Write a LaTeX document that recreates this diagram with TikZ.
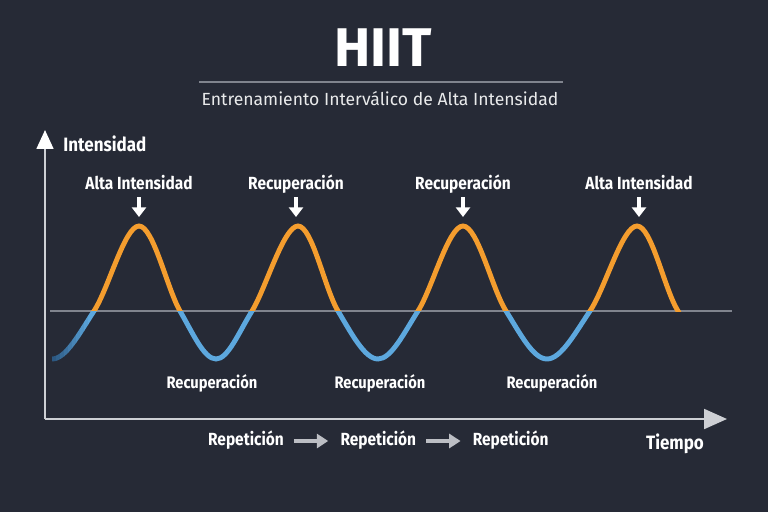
\documentclass[tikz,border=0pt]{standalone}
\usepackage{fontspec}
\setmainfont{Fira Sans}
\newfontfamily\narrowfont{Fira Sans}[FakeStretch=0.88]
\usepackage{xcolor}
\usepackage{tikz}
\usetikzlibrary{arrows.meta,positioning}

\definecolor{bgc}{RGB}{38,42,54}
\definecolor{hiorange}{RGB}{244,157,46}
\definecolor{lowblue}{RGB}{93,168,222}
\definecolor{deepblue}{RGB}{44,88,130}
\definecolor{axisgray}{RGB}{205,207,212}
\definecolor{linegray}{RGB}{128,132,142}

\begin{document}
\begin{tikzpicture}[
  x=0.02cm, y=-0.02cm, >=Triangle,
  lab/.style={font=\narrowfont\bfseries\fontsize{10}{12}\selectfont, text=white, inner sep=0pt},
  phase/.style={lab, text height=7.3pt, text depth=2.3pt},
  downarr/.style={white, line width=2.2pt, -{Triangle[length=5.5pt,width=8pt]}},
  reparr/.style={axisgray!90!bgc, line width=2.4pt, -{Triangle[length=6.5pt,width=8pt]}},
  wave/.style={line width=2.8pt},
]
\fill[bgc] (0,0) rectangle (768,512);
% ---- title
\node[font=\bfseries\fontsize{31}{36}\selectfont, text=white] (title) at (383,48) {HIIT};
\draw[linegray, line width=0.6pt] (199,82) -- (563,82);
\node[font=\fontsize{10}{12}\selectfont, text=white!90!bgc] (subt) at (380,99)
  {Entrenamiento Interválico de Alta Intensidad};
% ---- axes
\coordinate (origin) at (45,419);
\coordinate (ytop) at (45,130);
\coordinate (xend) at (727,419);
\draw[axisgray, line width=1.2pt, -{Triangle[length=10.8pt,width=9.6pt,color=white]}] (origin) -- (ytop);
\draw[axisgray, line width=1.2pt, -{Triangle[length=13pt,width=11.3pt]}] (origin) -- (xend);
\node[lab, font=\narrowfont\bfseries\fontsize{11}{13}\selectfont, anchor=west] (ylab) at (63,144) {Intensidad};
\node[lab, font=\narrowfont\bfseries\fontsize{11}{13}\selectfont] (xlab) at (675,444) {Tiempo};
% ---- threshold and wave
\draw[linegray, line width=0.8pt] (50,311) -- (732,311);
\path[save path=\wavecurve] plot[smooth, tension=0.6] coordinates {(10,311) (52,359) (94,311)
  (139,226) (180,311) (216,359) (252,311) (298,226) (338,311) (378,359) (418,311)
  (463,226) (506,311) (547,359) (590,311) (637,226) (678,311) (720,359)};
\begin{scope}
  \clip (52,0) rectangle (681,311);
  \draw[wave, hiorange, use path=\wavecurve];
\end{scope}
\begin{scope}
  \clip (88,311) rectangle (672,512);
  \draw[wave, lowblue, use path=\wavecurve];
\end{scope}
\foreach \k in {0,...,8} {
  \pgfmathtruncatemacro\mix{100*\k/9}
  \begin{scope}
    \clip (52+4*\k,311) rectangle (56+4*\k,512);
    \draw[wave, lowblue!\mix!deepblue, use path=\wavecurve];
  \end{scope}
}
% ---- phase labels
\foreach \n/\x/\t in {1/139/Alta Intensidad, 2/296/Recuperación, 3/463/Recuperación, 4/639/Alta Intensidad} {
  \node[phase] (top\n) at (\x,185) {\t};
  \coordinate (tip\n) at (\x,217);
  \draw[downarr, shorten <=2pt] (top\n.south) -- (tip\n);
}
\foreach \n/\x in {1/212, 2/380, 3/552}
  \node[phase, font=\narrowfont\bfseries\fontsize{9.5}{11}\selectfont] (low\n) at (\x,384) {Recuperación};
% ---- repetitions
\node[phase] (rep1) at (246,441) {Repetición};
\node[phase, right=1.12cm of rep1] (rep2) {Repetición};
\node[phase, right=1.12cm of rep2] (rep3) {Repetición};
\draw[reparr, shorten <=5.5pt, shorten >=6.8pt] (rep1) -- (rep2);
\draw[reparr, shorten <=5.5pt, shorten >=6.8pt] (rep2) -- (rep3);
\end{tikzpicture}
\end{document}
